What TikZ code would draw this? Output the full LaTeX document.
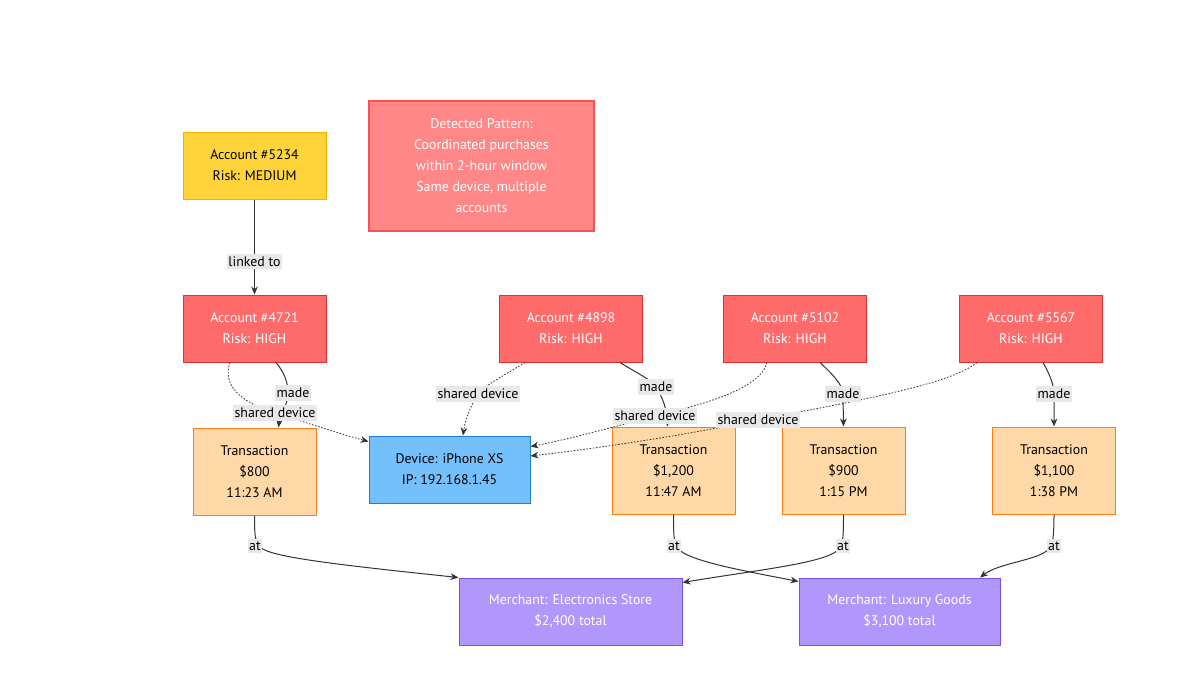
\documentclass[tikz,border=0pt]{standalone}
\usepackage{fontspec}
\setmainfont{PT Sans}
\usepackage{xcolor}
\usetikzlibrary{arrows.meta, positioning, calc}

\definecolor{warnfill}{HTML}{FFD43B}
\definecolor{warnline}{HTML}{F5B000}
\definecolor{acctfill}{HTML}{FF6B6B}
\definecolor{acctline}{HTML}{E03131}
\definecolor{patfill}{HTML}{FF8787}
\definecolor{patline}{HTML}{FA5252}
\definecolor{transfill}{HTML}{FFD8A8}
\definecolor{transline}{HTML}{FD7E14}
\definecolor{devfill}{HTML}{74C0FC}
\definecolor{devline}{HTML}{1C7ED6}
\definecolor{merchfill}{HTML}{B197FC}
\definecolor{merchline}{HTML}{7950F2}
\definecolor{edgegray}{HTML}{333333}
\definecolor{lblgray}{HTML}{E8E8E8}

\begin{document}
\begin{tikzpicture}[
    x=0.75pt, y=-0.75pt,
    font=\fontsize{10.4}{15.75}\selectfont,
    box/.style={rectangle, draw, line width=0.75pt, align=center, inner sep=0pt},
    warn/.style={box, minimum width=107.25pt, minimum height=50.25pt, fill=warnfill, draw=warnline, text=black},
    acct/.style={box, minimum width=107.25pt, minimum height=50.25pt, fill=acctfill, draw=acctline, text=white},
    pattern/.style={box, line width=1.5pt, minimum width=168.75pt, minimum height=97.5pt, fill=patfill, draw=patline, text=white},
    trans/.style={box, minimum width=92.25pt, minimum height=65.25pt, fill=transfill, draw=transline, text=black},
    device/.style={box, minimum width=120.75pt, minimum height=50.25pt, fill=devfill, draw=devline, text=black},
    merchant/.style={box, minimum height=50.25pt, fill=merchfill, draw=merchline, text=white},
    lbl/.style={fill=lblgray, inner xsep=1pt, inner ysep=2pt, text=black},
    arrow/.style={-{Stealth[length=6pt, width=5pt]}, line width=0.75pt, draw=edgegray},
    shared/.style={arrow, line width=0.6pt, dash pattern=on 1.2pt off 1.2pt}
]
    \useasboundingbox (0,0) rectangle (1200,682);

    % Accounts
    \node[acct] (a4721) at (254.5,328.5) {Account \#4721\\Risk: HIGH};
    \node[warn, above=71.25pt of a4721] (a5234) {Account \#5234\\Risk: MEDIUM};
    \node[acct] (a4898) at (571,328.5) {Account \#4898\\Risk: HIGH};
    \node[acct] (a5102) at (795,328.5) {Account \#5102\\Risk: HIGH};
    \node[acct] (a5567) at (1031,328.5) {Account \#5567\\Risk: HIGH};

    \node[pattern] (pattern) at (481.5,166) {Detected Pattern:\\Coordinated purchases\\within 2-hour window\\Same device, multiple\\accounts};

    % Transactions and device
    \node[trans, below=48.75pt of a4721] (t800) {Transaction\\\$800\\11:23 AM};
    \node[device] (dev) at (449.5,469.5) {Device: iPhone XS\\IP: 192.168.1.45};
    \node[trans] (t1200) at (673.5,470.5) {Transaction\\\$1,200\\11:47 AM};
    \node[trans] (t900) at (843.5,470.5) {Transaction\\\$900\\1:15 PM};
    \node[trans] (t1100) at (1054,470.5) {Transaction\\\$1,100\\1:38 PM};

    % Merchants
    \node[merchant, minimum width=167.25pt] (melec) at (570.5,611.5) {Merchant: Electronics Store\\\$2,400 total};
    \node[merchant, minimum width=150.75pt] (mlux) at (899.5,611.5) {Merchant: Luxury Goods\\\$3,100 total};

    % Edges
    \draw[arrow] (a5234) -- coordinate[pos=0.65] (l1) (a4721);
    \draw[arrow] ($(a4721.south)+(21.5,0)$) .. controls (284,372) and (288,382) .. (288,393) coordinate (l2)
        .. controls (288,405) and (280,415) .. ($(t800.north)+(24,0)$);
    \draw[shared] ($(a4721.south)+(-24.5,0)$) .. controls (222,385) and (240,402) .. (275,413) coordinate (l3)
        .. controls (305,422) and (340,434) .. ($(dev.north west)+(0,6)$);
    \draw[shared] ($(a4898.south)+(-46,0)$) .. controls (505,375) and (485,385) .. (478,394) coordinate (l4)
        .. controls (471,405) and (465,420) .. ($(dev.north)+(13.5,0)$);
    \draw[arrow] ($(a4898.south)+(49,0)$) .. controls (640,375) and (652,380) .. (656,387) coordinate (l5)
        .. controls (663,398) and (667,410) .. ($(t1200.north)+(-6,0)$);
    \draw[shared] ($(a5102.south)+(-28,0)$) .. controls (760,390) and (700,405) .. (655,416) coordinate (l6)
        .. controls (610,428) and (565,440) .. ($(dev.east)+(0,-23)$);
    \draw[arrow] ($(a5102.south)+(25,0)$) .. controls (830,372) and (843,384) .. (843,394) coordinate (l7) -- (t900.north);
    \draw[shared] ($(a5567.south)+(-54,0)$) .. controls (950,385) and (850,402) .. (758,420) coordinate (l8)
        .. controls (680,436) and (600,448) .. ($(dev.east)+(0,-13.5)$);
    \draw[arrow] ($(a5567.south)+(12,0)$) .. controls (1050,375) and (1054,385) .. (1054,394) coordinate (l9) -- (t1100.north);

    \draw[arrow] (t800.south) .. controls (254.5,535) and (255,540) .. (259,546) coordinate (l10)
        .. controls (266,556) and (320,563) .. (melec.north west);
    \draw[arrow] (t1200.south) .. controls (673.5,535) and (674,540) .. (676,546) coordinate (l11)
        .. controls (682,560) and (740,570) .. ($(mlux.north west)+(0,4)$);
    \draw[arrow] (t900.south) .. controls (843.5,535) and (843,540) .. (841,546) coordinate (l12)
        .. controls (835,562) and (770,568) .. ($(melec.north east)+(0,5)$);
    \draw[arrow] (t1100.south) .. controls (1054,535) and (1053,540) .. (1051,546) coordinate (l13)
        .. controls (1045,560) and (1000,562) .. ($(mlux.north)+(80.5,0)$);

    % Edge labels
    \node[lbl] (lbLinked) at (l1) {linked to};
    \node[lbl] (lbMade1) at ($(l2)+(5,0)$) {made};
    \node[lbl] (lbShared1) at (l3) {shared device};
    \node[lbl] (lbShared2) at (l4) {shared device};
    \node[lbl] (lbMade2) at (l5) {made};
    \node[lbl] (lbShared3) at (l6) {shared device};
    \node[lbl] (lbMade3) at (l7) {made};
    \node[lbl] (lbShared4) at (l8) {shared device};
    \node[lbl] (lbMade4) at (l9) {made};
    \node[lbl] (lbAt1) at ($(l10)+(-4,0)$) {at};
    \node[lbl] (lbAt2) at ($(l11)+(-2,0)$) {at};
    \node[lbl] (lbAt3) at ($(l12)+(2,0)$) {at};
    \node[lbl] (lbAt4) at ($(l13)+(3,0)$) {at};
\end{tikzpicture}
\end{document}
